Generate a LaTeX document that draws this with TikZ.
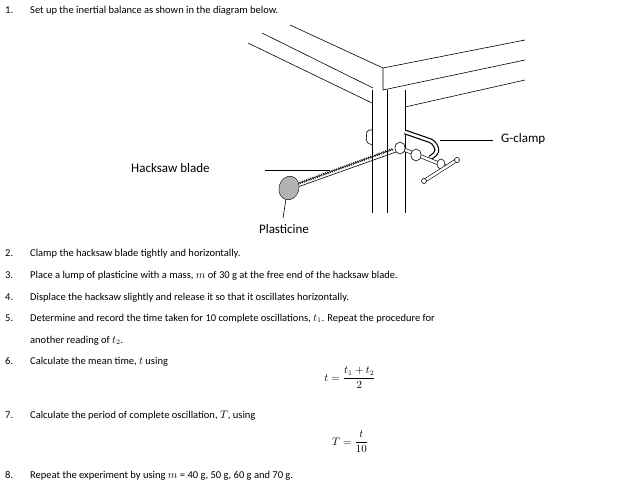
\documentclass[tikz,border=0pt]{standalone}
\usepackage{amsmath}
\usepackage{fontspec}
\setmainfont{Carlito}
\usetikzlibrary{decorations.pathmorphing,shapes.geometric,patterns}
\begin{document}
\begin{tikzpicture}[x=1pt,y=-1pt,
  txt/.style={anchor=base west,inner sep=0pt,font=\fontsize{10.5}{12}\selectfont},
  lbl/.style={inner sep=1pt,font=\fontsize{13}{15}\selectfont},
  ln/.style={line width=0.6pt}]
\useasboundingbox (0,0) rectangle (634,487);
% table
\draw[ln] (290,25)--(383,68)--(525,40);
\draw[ln] (262,33)--(373,88);
\draw[ln] (248,43)--(372,103);
\draw[ln] (383,68)--(383,90)--(525,60);
\draw[ln] (405,107)--(525,80);
\draw[ln] (372,90)--(372,213);
\draw[ln] (387,90)--(387,213);
\draw[ln] (405,90)--(405,213);
% G-clamp
\draw[ln,rounded corners=2pt] (372,130)--(367,130)--(366,142)--(372,145);
\draw[ln,line width=1.2pt,double=white,double distance=2.5pt,rounded corners=4pt] (405,132)--(434,142)--(438,152)--(430,158);
% screw
\draw[ln,double=white,double distance=2.5pt] (400,148)--(445,166);
\draw[ln,fill=white] (400,148) ellipse (5 and 6);
\draw[ln,fill=white] (416,155) ellipse (5 and 6);
\draw[ln,fill=white] (441,164) ellipse (4 and 5);
\draw[ln,double=white,double distance=2.5pt] (424,181)--(457,160);
\draw[ln,fill=white] (424,181) circle (2.5);
\draw[ln,fill=white] (457,160) circle (2.5);
% blade
\draw[ln] (292,189)--(396,152);
\draw[line width=0.5pt,decorate,decoration={zigzag,segment length=2pt,amplitude=1pt}] (297,184)--(393,149);
% plasticine
\node[ellipse,draw,fill=gray!60,minimum width=20pt,minimum height=24pt,inner sep=0pt,rotate=-15] (pl) at (289,188) {};
% labels
\node[lbl,anchor=west] (hb) at (130,168) {Hacksaw blade};
\draw[ln] (265,170)--(330,170);
\node[lbl,anchor=west] (gc) at (500,139) {G-clamp};
\draw[ln] (440,140)--(493,140);
\node[lbl] (pc) at (284,229) {Plasticine};
\draw[ln] (pl.south)--(283,218);
% text
\node[txt] (n1) at (5,14) {1.};
\node[txt] (t1) at (30,14) {Set up the inertial balance as shown in the diagram below.};
\node[txt] at (5,256) {2.};
\node[txt] at (30,256) {Clamp the hacksaw blade tightly and horizontally.};
\node[txt] at (5,278) {3.};
\node[txt] at (30,278) {Place a lump of plasticine with a mass, $m$ of 30 g at the free end of the hacksaw blade.};
\node[txt] at (5,300) {4.};
\node[txt] at (30,300) {Displace the hacksaw slightly and release it so that it oscillates horizontally.};
\node[txt] at (5,321) {5.};
\node[txt] at (30,321) {Determine and record the time taken for 10 complete oscillations, $t_1$. Repeat the procedure for};
\node[txt] at (30,343) {another reading of $t_2$.};
\node[txt] at (5,364) {6.};
\node[txt] at (30,364) {Calculate the mean time, $t$ using};
\node[txt,anchor=center] at (350,378) {$t=\dfrac{t_1+t_2}{2}$};
\node[txt] at (5,418) {7.};
\node[txt] at (30,418) {Calculate the period of complete oscillation, $T$, using};
\node[txt,anchor=center] at (350,442) {$T=\dfrac{t}{10}$};
\node[txt] at (5,478) {8.};
\node[txt] at (30,478) {Repeat the experiment by using $m$ = 40 g, 50 g, 60 g and 70 g.};
\end{tikzpicture}
\end{document}
